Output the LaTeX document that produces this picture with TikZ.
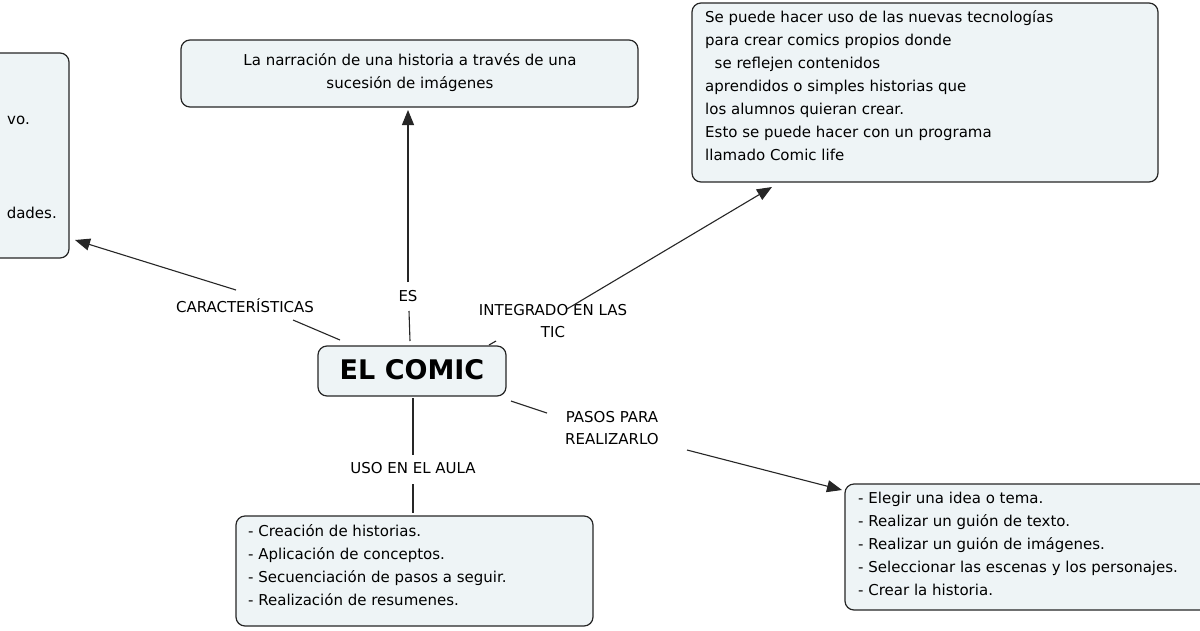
\documentclass[tikz,border=0pt]{standalone}
\usepackage{fontspec}
\setmainfont{DejaVu Sans}
\usetikzlibrary{arrows.meta}
\begin{document}
\begin{tikzpicture}[x=1pt,y=-1pt,
  box/.style={draw=black!85,line width=1.2pt,fill={rgb,255:red,238;green,244;blue,246},rounded corners=9pt},
  txt/.style={font=\fontsize{15}{23}\selectfont,inner sep=0pt},
  lbl/.style={font=\fontsize{15}{22}\selectfont,align=center,inner sep=0pt},
  con/.style={line width=1.1pt,black!85},
  arr/.style={con,-{Triangle[length=15pt,width=12pt]}}]
\useasboundingbox (0,0) rectangle (1200,630);
\clip (0,0) rectangle (1200,630);
\fill[white] (0,0) rectangle (1200,630);
% boxes
\draw[box] (-40,53) rectangle (69,258);
\node[txt,anchor=base east] (l1) at (30,124) {vo.};
\node[txt,anchor=base east] (l2) at (57,218) {dades.};
\draw[box] (181,40) rectangle (638,107);
\node[txt,align=center] (es) at (410,73) {La narración de una historia a través de una\\sucesión de imágenes};
\draw[box] (692,3) rectangle (1158,182);
\node[txt,align=left,anchor=north west] (tic) at (705,10) {Se puede hacer uso de las nuevas tecnologías\\para crear comics propios donde\\\ \ se reflejen contenidos\\aprendidos o simples historias que\\los alumnos quieran crear.\\Esto se puede hacer con un programa\\llamado Comic life};
\draw[box] (318,346) rectangle (506,396);
\node[font=\fontsize{27}{30}\selectfont\bfseries,inner sep=0pt] (c) at (412,370) {EL COMIC};
\draw[box] (236,516) rectangle (593,626);
\node[txt,align=left,anchor=north west] (uso) at (248,524) {- Creación de historias.\\- Aplicación de conceptos.\\- Secuenciación de pasos a seguir.\\- Realización de resumenes.};
\draw[box] (845,484) rectangle (1240,610);
\node[txt,align=left,anchor=north west] (pas) at (858,492) {- Elegir una idea o tema.\\- Realizar un guión de texto.\\- Realizar un guión de imágenes.\\- Seleccionar las escenas y los personajes.\\- Crear la historia.};
% labels
\node[lbl] (lc) at (245,306) {CARACTERÍSTICAS};
\node[lbl] (le) at (408,296) {ES};
\node[lbl] (li) at (553,321) {INTEGRADO EN LAS\\TIC};
\node[lbl] (lu) at (413,468) {USO EN EL AULA};
\node[lbl] (lp) at (612,428) {PASOS PARA\\REALIZARLO};
\coordinate (a1) at (340,340); \coordinate (a2) at (236,290); \coordinate (a3) at (75,240);
\draw[con] (a1) -- (293,320);
\draw[arr] (a2) -- (a3);
\coordinate (b1) at (410,341); \coordinate (b2) at (408,282); \coordinate (b3) at (408,110);
\draw[con] (b1) -- (409,311);
\draw[arr] (b2) -- (b3);
\coordinate (i1) at (489,345); \coordinate (i2) at (567,309); \coordinate (i3) at (772,187);
\draw[con] (i1) -- (496,341);
\draw[arr] (i2) -- (i3);
\coordinate (u1) at (413,398); \coordinate (u2) at (413,484); \coordinate (u3) at (413,513);
\draw[con] (u1) -- (413,455);
\draw[con] (u2) -- (u3);
\coordinate (p1) at (511,401); \coordinate (p2) at (687,450); \coordinate (p3) at (842,490);
\draw[con] (p1) -- (547,413);
\draw[arr] (p2) -- (p3);
\end{tikzpicture}
\end{document}
